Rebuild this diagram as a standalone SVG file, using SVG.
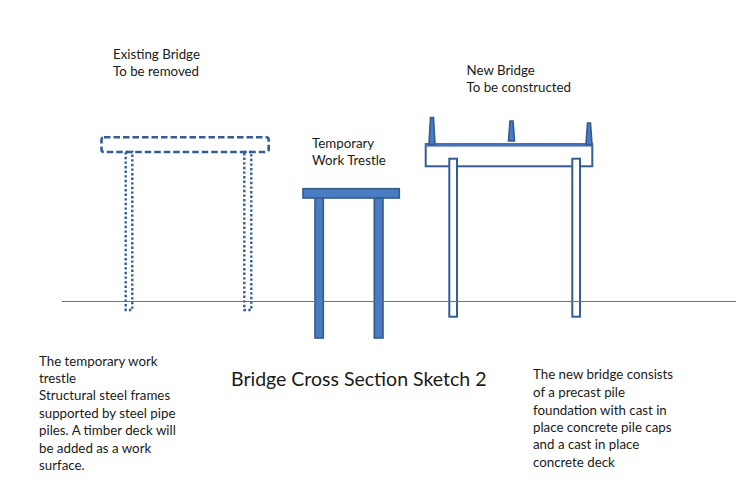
<svg xmlns="http://www.w3.org/2000/svg" width="736" height="491" viewBox="0 0 736 491">
<style>
text{font-family:"Lato","Open Sans",sans-serif;font-size:13.3px;fill:#1a1a1a}
.title{font-size:19.5px}
.solid{fill:#4a7cc4;stroke:#345a8c;stroke-width:1.6}
.open{fill:#fff;stroke:#345d93;stroke-width:2}
.dash{fill:none;stroke:#345d93;stroke-width:2.6;stroke-dasharray:6.5 3}
.dot{fill:none;stroke:#345d93;stroke-width:2.4;stroke-dasharray:2.4 2.2}
.ground{stroke:#4a7ab5;stroke-width:1;fill:none}
</style>
<rect width="736" height="491" fill="#fff"/>
<g id="existing-bridge">
<rect x="125.7" y="152" width="6.6" height="158" class="dot"/>
<rect x="244.3" y="152" width="7" height="158" class="dot"/>
<rect x="101.5" y="137.3" width="167.2" height="14.7" rx="2.5" class="dash"/>
<text x="113" y="59">Existing Bridge</text>
<text x="113" y="76">To be removed</text>
</g>
<g id="temporary-trestle">
<rect x="315" y="198" width="8.3" height="140" class="solid"/>
<rect x="374.3" y="198" width="8.7" height="140" class="solid"/>
<rect x="303" y="188.7" width="96.3" height="9.3" class="solid"/>
<text x="312" y="148">Temporary</text>
<text x="312" y="165">Work Trestle</text>
</g>
<g id="new-bridge">
<rect x="425.7" y="144.3" width="166.6" height="22" class="open"/>
<rect x="449.3" y="158.7" width="7.7" height="158" class="open"/>
<rect x="572.3" y="158.7" width="7.7" height="158" class="open"/>
<rect x="425" y="143" width="168" height="3.6" fill="#4472b8"/>
<path d="M429 144.5L430.5 117.5H433.5L435 144.5Z" class="solid"/>
<path d="M508.5 141L510 121H513L514.5 141Z" class="solid"/>
<path d="M586 144.5L587.5 123H590.5L592 144.5Z" class="solid"/>
<text x="466.5" y="75">New Bridge</text>
<text x="466.5" y="92">To be constructed</text>
</g>
<g id="connectors">
<line x1="62" y1="301.5" x2="736" y2="301.5" class="ground"/>
</g>
<g id="notes">
<text class="title" x="231" y="386">Bridge Cross Section Sketch 2</text>
<text x="39" y="366">The temporary work</text>
<text x="39" y="383">trestle</text>
<text x="39" y="400">Structural steel frames</text>
<text x="39" y="418">supported by steel pipe</text>
<text x="39" y="435">piles. A timber deck will</text>
<text x="39" y="453">be added as a work</text>
<text x="39" y="470">surface.</text>
<text x="533" y="379">The new bridge consists</text>
<text x="533" y="397">of a precast pile</text>
<text x="533" y="415">foundation with cast in</text>
<text x="533" y="432">place concrete pile caps</text>
<text x="533" y="449">and a cast in place</text>
<text x="533" y="467">concrete deck</text>
</g>
</svg>
